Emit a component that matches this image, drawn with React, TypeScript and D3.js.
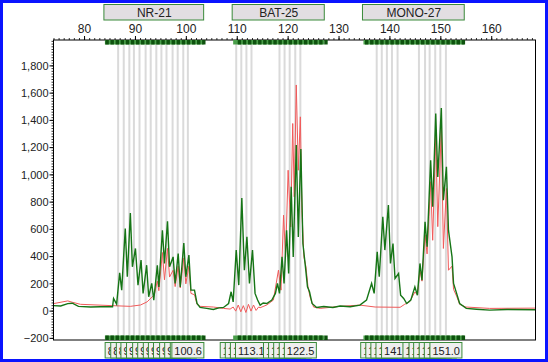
import React from 'react';
import * as d3 from 'd3';

// axis ticks
const xTicks = [80, 90, 100, 110, 120, 130, 140, 150, 160];
const yTicks = [-200, 0, 200, 400, 600, 800, 1000, 1200, 1400, 1600, 1800];

// marker panels (size range in bp)
const markerNames = ['NR-21', 'BAT-25', 'MONO-27'];
const markerStart = [84.0, 109.2, 134.8];
const markerEnd = [103.4, 127.1, 154.6];

// called peaks: position on the size axis and the label text
const peakPos = [
  86.6, 87.7, 88.8, 89.7, 90.8, 92.0, 93.0, 94.1, 95.1, 96.1, 97.3, 98.3, 99.4, 100.3,
  109.8, 110.8, 111.8, 112.8, 118.3, 119.3, 120.3, 121.4, 122.4,
  137.4, 138.4, 139.4, 140.4, 141.5, 145.7, 146.9, 147.8, 148.9, 149.9, 151.0,
];
const peakLabels = [
  '87.6', '88.6', '89.6', '90.6', '91.6', '92.6', '93.6', '94.6', '95.6', '96.6', '97.6', '98.6', '99.6', '100.6',
  '110.1', '111.1', '112.1', '113.1', '118.5', '119.5', '120.5', '121.5', '122.5',
  '137.0', '138.0', '139.0', '140.0', '141.0', '146.0', '147.0', '148.0', '149.0', '150.0', '151.0',
];

// green trace (size, rfu)
const greenSize = [
  73.9, 75.3, 76.7, 77.6, 78.8, 81.2, 83.1, 85.5, 85.7, 86.3, 86.9, 87.3, 88.0, 88.4, 89.0, 89.4,
  90.0, 90.5, 91.1, 91.5, 92.2, 92.6, 93.2, 93.6, 94.3, 94.6, 95.3, 95.7, 96.3, 96.7, 97.4, 97.8,
  98.4, 98.8, 99.5, 99.9, 100.5, 100.9, 101.6, 102.1, 102.7, 104.0, 105.3, 106.4, 107.3, 108.3, 108.8, 109.2,
  109.8, 110.3, 110.9, 111.4, 111.9, 112.4, 113.0, 113.5, 114.0, 114.5, 115.1, 115.8, 116.8, 117.5, 117.9,
  118.3, 118.8, 119.2, 119.7, 120.1, 120.6, 121.0, 121.6, 122.0, 122.5, 122.9, 123.4, 123.8, 124.2,
  124.7, 125.6, 127.0, 128.8, 130.2, 132.2, 134.1, 135.4, 136.4, 136.9, 137.5, 137.9, 138.6, 139.0, 139.7, 140.1,
  140.6, 141.0, 141.7, 142.1, 142.7, 143.3, 144.1, 144.9, 145.4, 145.9, 146.3, 146.9, 147.3, 148.0,
  148.4, 149.0, 149.4, 150.1, 150.5, 151.1, 151.5, 152.2, 152.5, 153.1, 153.7, 155.0, 157.0, 159.6, 163.0, 168.6,
];
const greenRfu = [
  40, 38, 55, 58, 35, 30, 32, 32, 93, 51, 281, 154, 607, 252, 720, 325,
  460, 191, 374, 130, 337, 105, 203, 81, 337, 178, 594, 350, 660, 325, 398, 203,
  423, 178, 500, 252, 411, 154, 154, 56, 27, 20, 12, 24, 27, 56, 142, 68,
  448, 191, 830, 301, 545, 203, 448, 130, 81, 44, 60, 56, 81, 130, 203,
  130, 398, 203, 594, 276, 912, 398, 1220, 545, 1190, 496, 325, 178, 142,
  56, 27, 34, 27, 37, 32, 44, 81, 203, 130, 435, 252, 692, 448, 778, 350,
  496, 240, 276, 117, 93, 56, 81, 178, 117, 350, 227, 655, 472, 1108,
  766, 1450, 985, 1490, 814, 1059, 594, 398, 203, 130, 56, 20, 14, 7, 12, 10,
];

// red trace (size, rfu)
const redSize = [
  73.9, 76.7, 77.6, 79.2, 85.5, 89.0, 91.0, 92.3, 93.3, 93.7, 94.3, 94.6, 95.3, 95.7, 96.3, 96.7,
  97.4, 97.8, 98.4, 98.8, 99.5, 99.9, 100.5, 100.9, 101.6, 102.1, 102.7, 105.3, 107.3, 108.6,
  109.2, 109.7, 110.2, 110.7, 111.2, 111.7, 112.2, 112.7, 113.2, 113.7, 114.2, 114.5, 115.8, 117.1,
  118.1, 118.6, 119.1, 119.5, 120.0, 120.5, 120.9, 121.2, 121.6, 122.0, 122.4, 122.7, 123.1, 123.5,
  123.9, 124.3, 125.0, 126.3, 130.2, 134.1, 137.1, 142.0, 142.9, 143.9, 144.9, 145.4, 145.9, 146.3,
  146.9, 147.3, 148.0, 148.4, 149.0, 149.4, 150.1, 150.5, 151.1, 151.5, 152.2, 152.5, 153.1, 153.7,
  154.9, 159.6, 168.6,
];
const redRfu = [
  55, 75, 65, 50, 40, 35, 45, 68, 105, 120, 220, 150, 430, 230, 460, 250,
  300, 180, 330, 170, 390, 200, 330, 130, 120, 50, 35, 30, 20, 15,
  30, 0, 45, -5, 40, -10, 50, 0, 45, 5, 30, 25, 45, 81,
  301, 154, 704, 398, 1034, 618, 1377, 839, 1660, 1034, 1426, 741, 398, 325,
  178, 105, 30, 20, 35, 44, 30, 28, 50, 70, 140, 120, 300, 220,
  560, 420, 950, 520, 1300, 620, 1350, 460, 900, 300, 330, 160, 110, 50,
  30, 20, 22,
];

const W = 548;
const H = 362;
const plot = { left: 53.5, right: 535.5, top: 40, bottom: 340 };
const font = '"Liberation Sans", Arial, sans-serif';

const x = d3.scaleLinear().domain([73.9, 168.6]).range([plot.left, plot.right]);
const y = d3.scaleLinear().domain([-212, 1990]).range([plot.bottom, plot.top]);

const labelWidth = (s: string) => {
  let w = 0;
  for (const c of s) w += c === '.' ? 3.0 : 6.0;
  return w + 5;
};

export default function App() {
  const green = greenSize.map((s, i) => [s, greenRfu[i]] as [number, number]);
  const red = redSize.map((s, i) => [s, redRfu[i]] as [number, number]);
  const line = d3.line<[number, number]>().x(d => x(d[0])).y(d => y(d[1]));

  const yMinor = d3.range(-200, 1990, 20);
  const xMinor = d3.range(74, 169, 1);

  return (
    <svg width={W} height={H} style={{ position: 'absolute', left: 0, top: 0, display: 'block' }}
      fontFamily={font}>
      <rect x={1.5} y={1.5} width={W - 3} height={H - 3} fill="#fff" stroke="#0a14ff" strokeWidth={3} />
      <defs>
        <clipPath id="plotClip">
          <rect x={plot.left} y={plot.top} width={plot.right - plot.left} height={plot.bottom - plot.top} />
        </clipPath>
      </defs>

      {/* peak lines */}
      {peakPos.map((p, i) => (
        <line key={'pl' + i} x1={x(p)} x2={x(p)} y1={plot.top} y2={plot.bottom}
          stroke="#dadada" strokeWidth={2} />
      ))}

      {/* traces */}
      <g clipPath="url(#plotClip)">
        <path d={line(red) ?? ''} fill="none" stroke="#f05a5a" strokeWidth={1} />
        <path d={line(green) ?? ''} fill="none" stroke="#167516" strokeWidth={1.4} />
      </g>

      {/* frame */}
      <rect x={plot.left} y={plot.top} width={plot.right - plot.left} height={plot.bottom - plot.top}
        fill="none" stroke="#000" strokeWidth={1} />

      {/* y axis */}
      {yMinor.map(v => (
        <line key={'ym' + v} x1={plot.left - 2} x2={plot.left} y1={y(v)} y2={y(v)} stroke="#000" strokeWidth={0.8} />
      ))}
      {yTicks.map(v => (
        <g key={'yt' + v}>
          <line x1={plot.left - 4} x2={plot.left} y1={y(v)} y2={y(v)} stroke="#000" />
          <text x={plot.left - 5} y={y(v)} dy="0.35em" textAnchor="end" fontSize={11} fill="#222">
            {d3.format(',')(v)}
          </text>
        </g>
      ))}

      {/* top axis */}
      {xMinor.map(v => (
        <line key={'xm' + v} x1={x(v)} x2={x(v)} y1={plot.top - 2} y2={plot.top} stroke="#000" strokeWidth={0.8} />
      ))}
      {xTicks.map(v => (
        <g key={'xt' + v}>
          <line x1={x(v)} x2={x(v)} y1={plot.top - 4} y2={plot.top} stroke="#000" />
          <text x={x(v)} y={33} textAnchor="middle" fontSize={12} fill="#222">{v}</text>
        </g>
      ))}

      {/* marker name boxes and bin strips */}
      {markerNames.map((m, i) => {
        const x0 = x(markerStart[i]);
        const x1 = x(markerEnd[i]);
        const bins = d3.range(Math.ceil(markerStart[i]), markerEnd[i], 1);
        return (
          <g key={m}>
            <rect x={x0 - 1} y={4.5} width={x1 - x0 + 1} height={15.5} fill="#e2dee2" stroke="#3a8a3a" />
            <text x={(x0 + x1) / 2} y={16.5} textAnchor="middle" fontSize={12} fill="#222">{m}</text>
            {[plot.top, plot.bottom - 4.5].map(yy => (
              <g key={yy}>
                <rect x={x0} y={yy} width={x1 - x0} height={4.5} fill="#4a9e4a" />
                {bins.map(b => (
                  <rect key={b} x={x(b) + 0.5} y={yy} width={3.4} height={4.5} fill="#0e520e" />
                ))}
              </g>
            ))}
          </g>
        );
      })}

      {/* allele labels: centred on the peak, later boxes drawn over earlier ones */}
      {peakPos.map((p, i) => {
        const w = labelWidth(peakLabels[i]);
        const left = x(p) - w / 2;
        return (
          <g key={'lb' + i}>
            <rect x={left} y={342.5} width={w} height={15.5} fill="#efefef" stroke="#3a8a3a" />
            <text x={left + 2.5} y={354.5} fontSize={11} fill="#222">{peakLabels[i]}</text>
          </g>
        );
      })}
    </svg>
  );
}
